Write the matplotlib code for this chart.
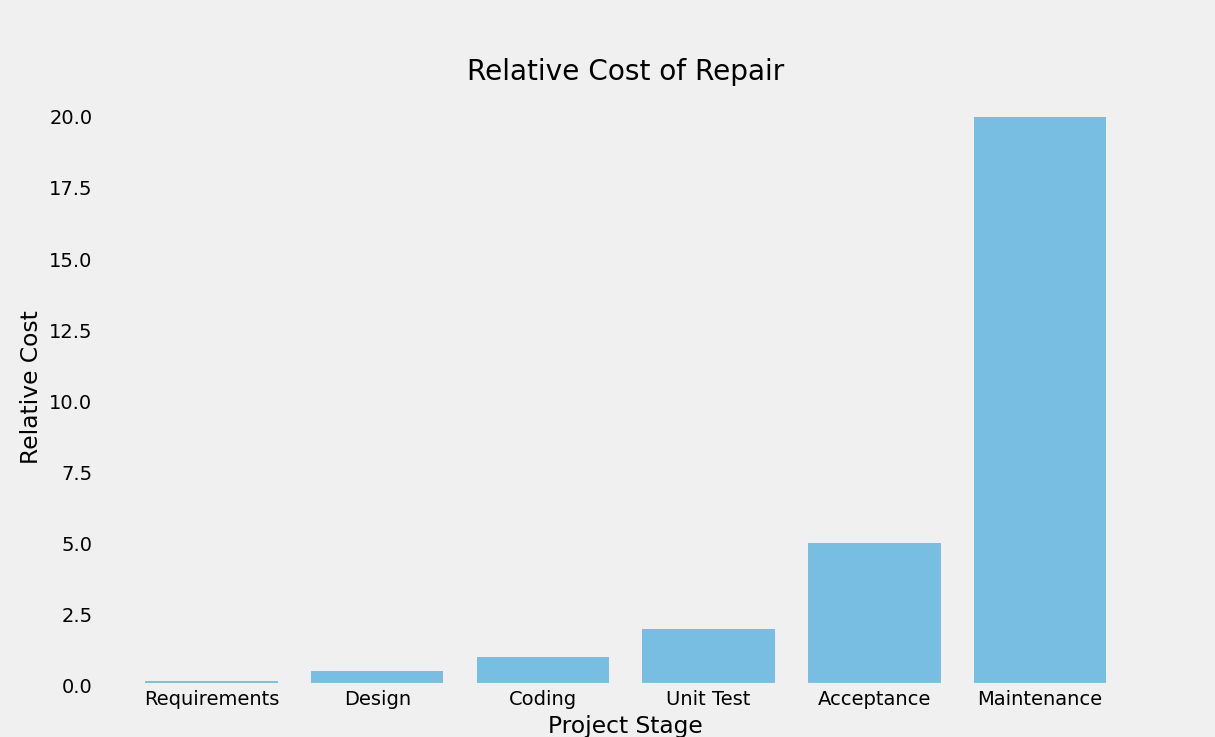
import numpy as np
import matplotlib.pyplot as plt

stages = ['Requirements', 'Design', 'Coding', 'Unit Test', 'Acceptance', 'Maintenance']
cost = [0.15, 0.5, 1, 2, 5, 20]

plt.style.use('fivethirtyeight')
plt.rcParams['font.family'] = ['DejaVu Sans']

fig, ax = plt.subplots(figsize=(12.15, 7.37), dpi=100)
fig.subplots_adjust(left=0.08, right=0.95, bottom=0.07, top=0.88)

x = np.arange(len(stages))
ax.bar(x, cost, color='#77bee2')
ax.set_xticks(x)
ax.set_xticklabels(stages)
ax.set_ylim(0, 21)
ax.yaxis.set_major_formatter(plt.FormatStrFormatter('%.1f'))
ax.grid(False)

ax.set_title('Relative Cost of Repair')
ax.set_xlabel('Project Stage')
ax.set_ylabel('Relative Cost')

fig.savefig('out.png', dpi=100)
